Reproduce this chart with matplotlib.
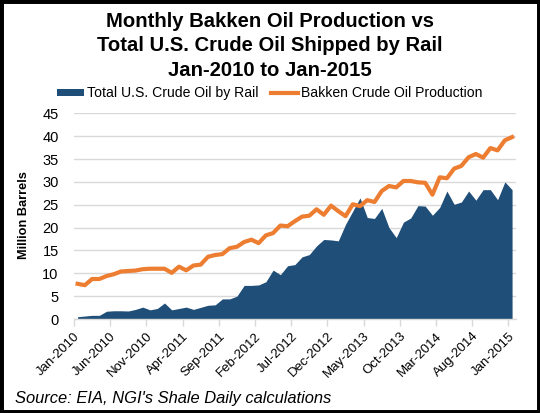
import matplotlib
matplotlib.use("Agg")
import matplotlib.pyplot as plt
from matplotlib.patches import Rectangle

months = ["Jan-2010", "Jun-2010", "Nov-2010", "Apr-2011", "Sep-2011", "Feb-2012",
          "Jul-2012", "Dec-2012", "May-2013", "Oct-2013", "Mar-2014", "Aug-2014", "Jan-2015"]

rail = [0.5, 0.65, 0.8, 0.8, 1.7, 1.8, 1.8, 1.75, 2.1, 2.6,
        2.0, 2.3, 3.5, 2.0, 2.3, 2.6, 2.1, 2.55, 3.0, 3.1,
        4.4, 4.4, 5.0, 7.35, 7.35, 7.45, 8.15, 10.7, 9.7, 11.65,
        11.9, 13.6, 14.1, 16.0, 17.4, 17.3, 17.1, 20.7, 23.6, 26.5,
        22.2, 22.0, 24.2, 20.0, 17.8, 21.2, 22.1, 24.8, 24.7, 22.7,
        24.4, 28.0, 25.1, 25.6, 28.0, 26.0, 28.3, 28.3, 26.1, 30.0,
        28.3]

bakken = [7.7, 7.4, 8.75, 8.75, 9.4, 9.8, 10.4, 10.5, 10.6, 10.9,
          11.0, 11.0, 11.0, 10.1, 11.45, 10.65, 11.7, 11.9, 13.6, 14.0,
          14.2, 15.5, 15.8, 16.85, 17.35, 16.6, 18.3, 18.8, 20.45, 20.3,
          21.4, 22.4, 22.6, 24.0, 22.8, 24.8, 23.6, 22.5, 25.1, 24.7,
          26.0, 25.6, 28.0, 29.1, 28.8, 30.2, 30.2, 29.9, 29.8, 27.2,
          31.0, 30.8, 32.9, 33.5, 35.4, 36.1, 35.3, 37.4, 36.9, 39.1,
          39.8]

yticks = [0, 5, 10, 15, 20, 25, 30, 35, 40, 45]

BLUE = "#1F4E79"
ORANGE = "#ED7D31"
GRID = "#D9D9D9"

plt.rcParams['font.family'] = ['Liberation Sans', 'DejaVu Sans']

fig = plt.figure(figsize=(5.4, 4.13), dpi=100)
ax = fig.add_axes([0.137, 0.2276, 0.818, 0.498])

x = list(range(len(rail)))
ax.fill_between(x, 0, rail, color=BLUE, linewidth=0, label="Total U.S. Crude Oil by Rail")
ax.plot(x, bakken, color=ORANGE, linewidth=3.0, solid_joinstyle='round',
        label="Bakken Crude Oil Production")

ax.set_xlim(-0.5, len(rail) - 0.5)
ax.set_ylim(0, 45)
ax.set_yticks(yticks)
ax.set_yticklabels([str(v) for v in yticks], fontsize=10.5)
ax.yaxis.grid(True, color=GRID, linewidth=1.0)
ax.set_axisbelow(True)
ax.tick_params(axis='y', length=0, pad=11)

tick_pos = [i * 5 - 0.5 for i in range(len(months))]
ax.set_xticks(tick_pos)
ax.set_xticklabels(months, rotation=45, ha='right', rotation_mode='anchor', fontsize=9.5)
ax.tick_params(axis='x', length=5, color=GRID, width=1.0, pad=3)

for s in ['top', 'right', 'left']:
    ax.spines[s].set_visible(False)
ax.spines['bottom'].set_color(GRID)
ax.spines['bottom'].set_linewidth(1.0)

ax.set_ylabel("Million Barrels", fontsize=9.2, fontweight='bold')
ax.yaxis.set_label_coords(-0.0996, 0.506)

fig.text(0.5, 0.972, "Monthly Bakken Oil Production vs\nTotal U.S. Crude Oil Shipped by Rail\nJan-2010 to Jan-2015",
         ha='center', va='top', fontsize=14.6, fontweight='bold', linespacing=1.38)

leg = fig.legend(loc='center', bbox_to_anchor=(0.5, 0.774), ncol=2, frameon=False,
                 fontsize=10.1, handlelength=1.87, handleheight=0.45, handletextpad=0.25,
                 columnspacing=0.9)

fig.text(0.028, 0.036, "Source: EIA, NGI's Shale Daily calculations", fontsize=11.9,
         style='italic', ha='left', va='center')

fig.patches.append(Rectangle((0, 0), 1, 1, transform=fig.transFigure, fill=False,
                             edgecolor='black', linewidth=5, zorder=10))

fig.savefig("out.png", dpi=100)
